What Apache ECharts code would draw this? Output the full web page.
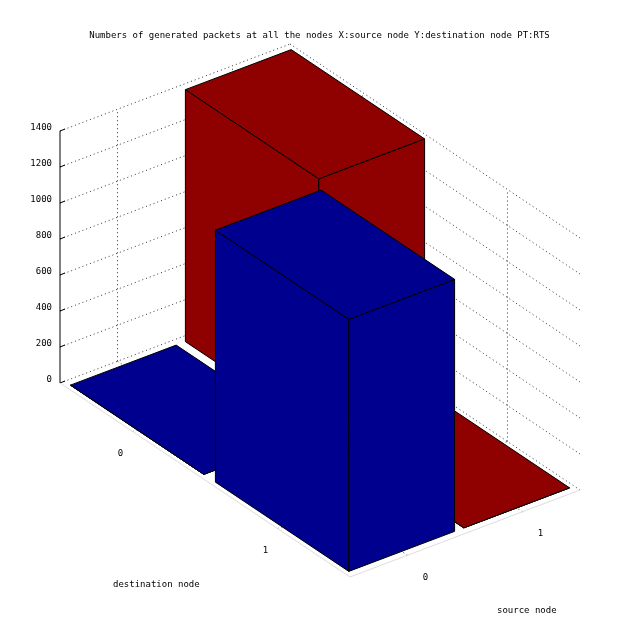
<!DOCTYPE html>
<html><head><meta charset="utf-8">
<script src="https://cdn.jsdelivr.net/npm/echarts@6/dist/echarts.min.js"></script>
<style>html,body{margin:0;background:#fff}#c{width:639px;height:624px}</style>
</head><body><div id="c"></div>
<script>
// data
var sourceNodes = [0, 1];
var destNodes = [0, 1];
// packets[source][dest]
var packets = [[0, 1400], [1400, 0]];
var barColors = ['#00008f', '#8f0000'];
var zTicks = [0, 200, 400, 600, 800, 1000, 1200, 1400];

// simple fixed 3d view like the matlab one
function proj(s, d, z) {
  var sx = s + 0.5, dy = d + 0.5;
  return [60 + sx * 115 + dy * 145, 383 - sx * 43.5 + dy * 97 - z * 0.18];
}

var bars = [];
sourceNodes.forEach(function (s, i) {
  destNodes.forEach(function (d, j) {
    bars.push([s, d, packets[i][j], i]);
  });
});
bars.sort(function (a, b) { return (a[1] - a[0]) - (b[1] - b[0]); });

var w = 0.46;
function face(pts, color) {
  return { type: 'polygon', shape: { points: pts },
    style: { fill: color, stroke: '#000', lineWidth: 1 } };
}

function renderBar(params, api) {
  var s = api.value(0), d = api.value(1), z = api.value(2), c = barColors[api.value(3)];
  var s0 = s - w, s1 = s + w, d0 = d - w, d1 = d + w;
  return { type: 'group', children: [
    face([proj(s0, d0, 0), proj(s0, d1, 0), proj(s0, d1, z), proj(s0, d0, z)], c),
    face([proj(s0, d1, 0), proj(s1, d1, 0), proj(s1, d1, z), proj(s0, d1, z)], c),
    face([proj(s0, d0, z), proj(s0, d1, z), proj(s1, d1, z), proj(s1, d0, z)], c)
  ] };
}

// grid / axes
var lo = -0.5, hi = 1.5, zTop = 1400;
function renderGrid() {
  var ch = [];
  var dot = { stroke: '#000', lineWidth: 0.8, lineDash: [1, 3] };
  function ln(a, b, st) { ch.push({ type: 'line', shape: { x1: a[0], y1: a[1], x2: b[0], y2: b[1] }, style: st }); }
  zTicks.forEach(function (z) {
    ln(proj(lo, lo, z), proj(hi, lo, z), dot);
    ln(proj(hi, lo, z), proj(hi, hi, z), dot);
    var p = proj(lo, lo, z);
    ln(p, [p[0] + 5, p[1] - 2], { stroke: '#000' });
    ch.push({ type: 'text', x: p[0] - 8, y: p[1] - 3, style: { text: String(z), align: 'right', verticalAlign: 'middle', fontSize: 9, fontFamily: 'DejaVu Sans Mono', fill: '#000' } });
  });
  sourceNodes.forEach(function (s) {
    ln(proj(s, lo, 0), proj(s, lo, zTop), dot);
    ln(proj(s, lo, 0), proj(s, hi, 0), dot);
    var p = proj(s, hi, 0);
    ch.push({ type: 'text', x: p[0] + 18, y: p[1] + 22, style: { text: String(s), align: 'center', verticalAlign: 'middle', fontSize: 9, fontFamily: 'DejaVu Sans Mono', fill: '#000' } });
  });
  destNodes.forEach(function (d) {
    ln(proj(hi, d, 0), proj(hi, d, zTop), dot);
    ln(proj(lo, d, 0), proj(hi, d, 0), dot);
    var p = proj(lo, d, 0);
    ch.push({ type: 'text', x: p[0] - 12, y: p[1] + 22, style: { text: String(d), align: 'center', verticalAlign: 'middle', fontSize: 9, fontFamily: 'DejaVu Sans Mono', fill: '#000' } });
  });
  ln(proj(lo, lo, 0), proj(lo, lo, zTop), { stroke: '#000' });
  ln(proj(lo, lo, 0), proj(lo, hi, 0), { stroke: '#ddd' });
  ln(proj(lo, hi, 0), proj(hi, hi, 0), { stroke: '#ddd' });
  return { type: 'group', children: ch };
}

var chart = echarts.init(document.getElementById('c'));
chart.setOption({
  backgroundColor: '#fff',
  animation: false,
  title: { text: 'Numbers of generated packets at all the nodes X:source node Y:destination node PT:RTS',
    left: 'center', top: 26, textStyle: { fontSize: 9, fontWeight: 'normal', fontFamily: 'DejaVu Sans Mono', color: '#000' } },
  graphic: [
    { type: 'text', left: 113, top: 580, style: { text: 'destination node', fontSize: 9, fontFamily: 'DejaVu Sans Mono', fill: '#000' } },
    { type: 'text', left: 497, top: 606, style: { text: 'source node', fontSize: 9, fontFamily: 'DejaVu Sans Mono', fill: '#000' } }
  ],
  series: [
    { type: 'custom', coordinateSystem: 'none', data: [[0]], renderItem: renderGrid, silent: true },
    { type: 'custom', coordinateSystem: 'none', data: bars, renderItem: renderBar }
  ]
});
</script></body></html>
